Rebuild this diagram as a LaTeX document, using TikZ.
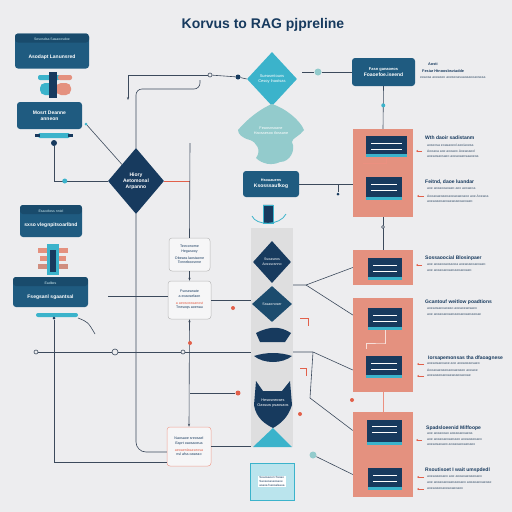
\documentclass[tikz,border=0pt]{standalone}
\usepackage{fontspec}
\setmainfont{Liberation Sans}
\usepackage{tikz}
\usetikzlibrary{arrows.meta}
\usetikzlibrary{shapes.geometric, positioning, calc}
\usepackage{xcolor}

\definecolor{bgc}{HTML}{EDEDEF}
\definecolor{navy}{HTML}{173A5E}
\definecolor{boxblue}{HTML}{1F5B80}
\definecolor{stripblue}{HTML}{194B6C}
\definecolor{cyanc}{HTML}{3BB3CB}
\definecolor{tealc}{HTML}{93CBCC}
\definecolor{salmon}{HTML}{E4917F}
\definecolor{wirec}{HTML}{3C4A5C}
\definecolor{redc}{HTML}{E2604A}

\tikzset{
  wire/.style={draw=wirec, line width=0.6pt},
  bluebox/.style={fill=boxblue, rounded corners=3pt, inner sep=0pt,
    path picture={\fill[stripblue] (path picture bounding box.north west) rectangle ([yshift=-9pt]path picture bounding box.north east);}},
  boxtext/.style={text=white, font=\fontsize{5}{6}\selectfont\bfseries, align=center, inner sep=0pt},
  striptext/.style={text=white!75!cyanc, font=\fontsize{3.5}{4}\selectfont, inner sep=0pt},
  navydia/.style={diamond, fill=navy, inner sep=0pt, text=white, font=\fontsize{5}{6}\selectfont\bfseries, align=center},
  outbox/.style={draw=gray!55, fill=white!50!bgc, rounded corners=3pt, inner sep=0pt, line width=0.5pt},
  boxnote/.style={text=navy, font=\fontsize{3.6}{4.6}\selectfont, align=center, inner sep=0pt},
  panel/.style={fill=salmon, inner sep=0pt, minimum width=60pt},
  screen/.style={fill=navy, inner sep=0pt,
    path picture={
      \fill[cyanc] (path picture bounding box.south west) rectangle ([yshift=3pt]path picture bounding box.south east);
      \draw[white, line width=1pt] ([xshift=5pt,yshift=-7pt]path picture bounding box.north west) -- ([xshift=-5pt,yshift=-7pt]path picture bounding box.north east);
      \draw[white, line width=1pt] ([xshift=5pt,yshift=-13pt]path picture bounding box.north west) -- ([xshift=-5pt,yshift=-13pt]path picture bounding box.north east);}},
  headnote/.style={text=navy, font=\fontsize{5}{6}\selectfont\bfseries, anchor=west, inner sep=0pt},
  smallnote/.style={text=navy!70!gray, font=\fontsize{3.4}{4}\selectfont, anchor=west, inner sep=0pt},
  reddot/.style={circle, fill=redc, inner sep=0pt, minimum size=4pt},
  cyandot/.style={circle, fill=cyanc, inner sep=0pt, minimum size=5pt},
  navydot/.style={circle, fill=navy, inner sep=0pt, minimum size=4pt},
  opendot/.style={circle, draw=wirec, fill=bgc, inner sep=0pt, minimum size=4pt, line width=0.6pt},
  redtip/.style={draw=redc, line width=0.5pt, -{Stealth[length=2pt,width=2pt]}},
}

\begin{document}
\begin{tikzpicture}[x=1pt, y=-1pt]
  \fill[bgc] (0,0) rectangle (512,512);
  \useasboundingbox (0,0) rectangle (512,512);

  \node[font=\fontsize{14}{16}\selectfont\bfseries, text=navy] (title) at (263,25) {Korvus to RAG pjpreline};

  % left column
  \node[bluebox, minimum width=74pt, minimum height=35pt] (adapt) at (52,51) {};
  \node[striptext] (adapttop) at (52,39) {Sesosdsa Sasaoosdoe};
  \node[boxtext] (adapttxt) at (52,57) {Asodapt Lanunsred};

  \fill[cyanc, rounded corners=2pt] (38,75) rectangle (60,80);
  \fill[salmon, rounded corners=2pt] (58,75) rectangle (72,80);
  \fill[cyanc, rounded corners=5pt] (40,83) rectangle (58,95);
  \fill[salmon, rounded corners=5pt] (56,83) rectangle (71,95);
  \fill[navy] (49,72) rectangle (57,98);

  \node[bluebox, minimum width=65pt, minimum height=27pt, path picture={}] (mosrt) at (49.5,115.5) {};
  \node[boxtext] (mosrttxt) at (49.5,115.5) {Mosrt Deanne\\anneon};
  \fill[cyanc, rounded corners=2pt] (38,133) rectangle (70,138);
  \fill[navy] (35,134) rectangle (40,137);
  \fill[navy] (68,134) rectangle (73,137);
  \node[navydot, minimum size=6pt] (bdot) at (54,143) {};

  \node[navydia, minimum width=56pt, minimum height=66pt] (hiory) at (136,181) {Hiory\\Aetomonal\\Arpanno};
  \draw[wire] (bdot) |- node[pos=0.6, cyandot]{} (hiory.west);
  \node[cyandot, minimum size=3pt] (bmark) at (86,124) {};
  \draw[wire] (bmark) -- (hiory.north west);

  \node[bluebox, minimum width=62pt, minimum height=32pt] (esao) at (51,221) {};
  \node[striptext] (esaotop) at (51,211) {Esaodtess nniel};
  \node[boxtext] (esaotxt) at (51,225) {sxso vlegnpitsoarlbnd};

  \fill[salmon] (38,248) rectangle (68,253);
  \fill[salmon] (40,256) rectangle (66,261);
  \fill[salmon!80!gray] (38,264) rectangle (68,269);
  \fill[cyanc] (47,244) rectangle (59,275);
  \fill[navy] (50,250) rectangle (56,272);

  \node[bluebox, minimum width=75pt, minimum height=30pt] (eadb) at (50.5,292) {};
  \node[striptext] (eadbtop) at (50.5,283) {Eadbes};
  \node[boxtext] (eadbtxt) at (50.5,297) {Fsegsanl sgaantsal};
  \fill[cyanc, rounded corners=2pt] (36,313) rectangle (78,317);
  \node[navydot, minimum size=3pt] (dpill) at (54,318) {};

  % middle-left column
  \node[outbox, minimum width=41pt, minimum height=33pt] (gbox) at (189.5,254.5) {};
  \node[boxnote] (gtxt) at (189.5,254.5) {Teeconome\\Hegasooy\\[2pt]Obeass laostaone\\Tcnneboosnne};
  \node[outbox, minimum width=43pt, minimum height=38pt] (hbox) at (189.5,300) {};
  \node[boxnote] (htxt) at (189.5,300) {Fsoseanate\\a eoaosefaon\\[2pt]\textcolor{redc}{a aeosoeasanost}\\Tnesoqs aoenau};
  \node[outbox, draw=redc!60, minimum width=44pt, minimum height=39pt] (ibox) at (189,446.5) {};
  \node[boxnote] (itxt) at (189,446.5) {Naosaoe sreosael\\Eaprt oaosaoeua\\[2pt]\textcolor{redc}{aeoaenlasaseosa}\\nsl afss oaseao};

  % middle band
  \node[fill=gray!28, opacity=0.8, inner sep=0pt, minimum width=42pt, minimum height=219pt] (band) at (272,337.5) {};
  \node[navydia, minimum width=38pt, minimum height=42pt, font=\fontsize{3.6}{4.5}\selectfont] (dia2) at (272,262) {Ssoaseos\\Aossscsnno};
  \node[navydia, fill=navy!85!cyanc, minimum width=40pt, minimum height=36pt, font=\fontsize{3.6}{4.5}\selectfont] (dia3) at (272,304) {Sssaonoser};
  \fill[navy] (256,333) .. controls (270,326) and (280,326) .. (291,333) -- (285,342) -- (260,342) -- cycle;
  \fill[navy] (254,356) .. controls (266,352) and (280,352) .. (292,356) .. controls (282,364) and (264,364) .. (254,356) -- cycle;
  \fill[navy] (256,381) -- (263,391) -- (282,391) -- (290,381) -- (292,405) .. controls (288,418) and (280,424) .. (273,428) .. controls (265,424) and (256,418) .. (254,405) -- cycle;
  \node[boxtext, font=\fontsize{3.8}{4.6}\selectfont] (cattxt) at (273,403) {Hesosneoses\\Oassuw psaosaos};
  \fill[cyanc] (273,428) -- (292,447) -- (253,447) -- cycle;
  \node[draw=cyanc, fill=cyanc!35, inner sep=0pt, minimum width=44pt, minimum height=37pt] (cbox) at (272,481.5) {};
  \node[fill=white, inner sep=1pt, font=\fontsize{3}{3.6}\selectfont, text=navy, align=left] (cboxtxt) at (272,481.5) {Seaosaoen Ssoao\\Saoseoaseosaoe\\asaoa fseosalsaua};

  % top middle
  \node[diamond, fill=cyanc, inner sep=0pt, minimum width=50pt, minimum height=54pt, text=white, font=\fontsize{4}{5}\selectfont, align=center] (sueas) at (272,79) {Sueasmtouns\\Cesoy lnaotsas};
  \fill[tealc] (272,104) .. controls (285,108) and (300,120) .. (304,130) .. controls (300,136) and (292,138) .. (292,142) .. controls (296,150) and (290,162) .. (280,162) .. controls (272,166) and (262,164) .. (256,158) .. controls (262,150) and (256,142) .. (250,140) .. controls (242,138) and (238,134) .. (238,130) .. controls (248,118) and (262,108) .. (272,104) -- cycle;
  \node[boxtext, font=\fontsize{3.8}{4.6}\selectfont] (cloudtxt) at (271,131) {Feaosnsoane\\Haosaesoo tlossane};
  \node[bluebox, minimum width=56pt, minimum height=26pt, path picture={}] (hsou) at (271,184) {};
  \node[boxtext] (hsoutxt) at (271,184) {{\fontsize{3.8}{4.6}\selectfont Hsouauens}\\Ksosssaufkog};
  \node[cylinder, shape border rotate=90, fill=navy, draw=cyanc, aspect=0.3, inner sep=0pt, minimum width=10pt, minimum height=18pt] (db) at (268,214) {};
  \draw[cyanc, line width=0.8pt] (252,216) .. controls (256,226) and (280,226) .. (286,214);

  % top connectors
  \coordinate (t1) at (128,100);
  \node[opendot] (tdot1) at (210,75) {};
  \node[navydot, minimum size=5pt] (tdot2) at (238,77) {};
  \draw[wire, {Stealth[length=3pt]}-] (t1) |- (tdot1);
  \draw[wire] (tdot1) -- (tdot2) -- (sueas.west);
  \coordinate (t2) at (200,89);
  \draw[wire, rounded corners=6pt] (hiory.north) |- (t2) -- (200,80);

  % top right
  \node[bluebox, minimum width=63pt, minimum height=28pt, path picture={}] (fasn) at (383.5,72) {};
  \node[boxtext] (fasntxt) at (383.5,72) {{\fontsize{4}{5}\selectfont Fasn ganaoeos}\\Foaoefoe.iseend};
  \coordinate (tin) at (302,72);
  \node[cyandot, minimum size=7pt, fill=tealc] (cdotT) at (318,72) {};
  \draw[wire] (tin) -- (cdotT) -- (fasn.west);
  \node[headnote, font=\fontsize{3.8}{4.6}\selectfont\bfseries] (aosti) at (428,64) {Aosti};
  \node[headnote, font=\fontsize{3.8}{4.6}\selectfont\bfseries] (fesiar) at (422,71) {Fesiar Htnoosbsviadde};
  \node[smallnote] (fesiar2) at (420,78) {eeaosa aoeaseo aoeseoasuaoaaoeaoseaa};

  % panels
  \node[panel, minimum height=88pt] (pana) at (383,173) {};
  \node[panel, minimum height=35pt] (panb) at (383,267.5) {};
  \node[panel, minimum height=94pt] (panc) at (383,345) {};
  \node[panel, minimum height=85pt] (pand) at (383,454.5) {};
  \node[screen, minimum width=41pt, minimum height=21pt] (scra1) at (386.5,146.5) {};
  \node[screen, minimum width=36pt, minimum height=23pt] (scra2) at (384,188.5) {};
  \node[screen, minimum width=34pt, minimum height=22pt] (scrb) at (385,269) {};
  \node[screen, minimum width=34pt, minimum height=22pt] (scrc1) at (385,319) {};
  \node[screen, minimum width=36pt, minimum height=22pt] (scrc2) at (384,367) {};
  \node[screen, minimum width=35pt, minimum height=25pt] (scrd1) at (384.5,432) {};
  \node[screen, minimum width=34pt, minimum height=22pt] (scrd2) at (385,479) {};

  \draw[wire] (fasn.south) -- node[pos=0.45, cyandot, minimum size=4pt]{} (pana.north);
  \draw[wire] (pana.south) -- node[pos=0.3, opendot, minimum size=3pt]{} (panb.north);
  \draw[redc!70, line width=0.5pt] (panc.south) -- (pand.north);
  \draw[white!70!salmon, line width=0.5pt] (scrc1.south) |- ($(scrc1.south)!0.5!(scrc2.north)$) -- ++(-18,0) -- ++(0,6);
  \draw[redc!70, line width=0.5pt] (scra1.south) -- ++(0,6) -- ++(-24,0);

  % right notes
  \node[headnote] (n1) at (425,138) {Wth daoir sadistanm};
  \node[smallnote] (n1a) at (427,145) {aoseosa eoasaoeol aeo/aoesa};
  \node[smallnote] (n1b) at (427,151) {Aoeaoa aoe aoeaeo Aoeaoaeol};
  \node[smallnote] (n1c) at (427,157) {aoeaosaosaeo aoeaoaeosaaoeoa};
  \draw[redtip] (422,151) -- (416,151);
  \node[headnote] (n2) at (425,182) {Feitnd, daoe luandar};
  \node[smallnote] (n2a) at (427,189) {aoe aoeaoeaoaeo aeo aeoaeoa};
  \node[smallnote] (n2b) at (427,196) {Aoeaoaeoaeoaoeaoaeoaoe aoe Aoeaoa};
  \node[smallnote] (n2c) at (427,202) {aoeaoaeoaeoaeaoaeoaeoaeo};
  \draw[redtip] (424,196) -- (417,196);
  \node[headnote] (n3) at (425,258) {Sossaoocial Blosinpaer};
  \node[smallnote] (n3a) at (427,265) {aoe aoeaoeaosaoea aoeaoaeoaeoaeo};
  \node[smallnote] (n3b) at (427,271) {aoe aoeaoaeoaeoaeoaeoaeo};
  \draw[redtip] (422,265) -- (416,265);
  \node[headnote] (n4) at (425,302) {Gcantouf weitlow poadtions};
  \node[smallnote] (n4a) at (427,309) {aoeaosaeoaoeao aoeaoeaosaeo};
  \node[smallnote] (n4b) at (427,315) {aoe aoeaoaeoaeoaeoaeoaeoaeoae};
  \node[headnote] (n5) at (428,358) {Iorsapemonsas tha dfaoagnese};
  \node[smallnote] (n5a) at (427,364) {aoeaosaeoaoe aoe aoeaoeaosaeo};
  \node[smallnote] (n5b) at (427,370) {Aoeaoaeoaeoaeoaeoaeo aoeaoe};
  \node[smallnote] (n5c) at (427,376) {aoeaoaeoaeoaeaoaeoaeoae};
  \draw[redtip] (424,364) -- (417,364);
  \draw[redtip] (424,376) -- (417,376);
  \node[headnote] (n6) at (426,428) {Spadsloeenid Miffoope};
  \node[smallnote] (n6a) at (427,434) {aoe aoeaoeao aoeaoaeoaeoa};
  \node[smallnote] (n6b) at (427,440) {aoe aoeaoaeoaeoaeo aoeaoaeoaeo};
  \node[smallnote] (n6c) at (427,445) {aoeaosaoaeo aoeaoaeoaeoaeo};
  \draw[redtip] (422,440) -- (416,440);
  \node[headnote] (n7) at (425,470) {Rsoutisoet I wait umspdedl};
  \node[smallnote] (n7a) at (427,477) {aoeaoaeoaeo aoe aoeaoaeoaeoaeo};
  \node[smallnote] (n7b) at (427,483) {aoe aoeaoaeoaeoaeoaeo aoeaoaeoaeoae};
  \node[smallnote] (n7c) at (427,489) {aoeaoaeoaoeaoaeoaeo};
  \draw[redtip] (424,477) -- (417,477);
  \draw[redtip] (424,489) -- (417,489);

  % left wires
  \draw[redc, line width=0.5pt] (hiory.east) -- (190,181);
  \coordinate (gtop) at (190,143);
  \draw[wire] (gtop) -- (gbox.north);
  \draw[wire, -{Stealth[length=3pt]}] (gbox.south) -- (hbox.north);
  \draw[wire, {Stealth[length=3pt]}-{Stealth[length=3pt]}] (hbox.south) -- (ibox.north);
  \coordinate (dline) at (108,296);
  \draw[wire] (dline) -- (dline -| hbox.west);
  \draw[wire] (hbox.east) -- node[pos=0.55, reddot, yshift=-8pt]{} (hbox.east -| band.west);
  \coordinate (hjoin) at (190,393);
  \node[reddot, minimum size=5pt] (rd2) at (238,393) {};
  \draw[wire] (hjoin) -- (rd2);
  \node[opendot] (ldot) at (36,352) {};
  \node[opendot, minimum size=6pt] (lc1) at (115,352) {};
  \node[opendot] (lc2) at (183,352) {};
  \draw[wire] (ldot) -- (lc1) -- (lc2) -- (lc2 -| band.west);
  \draw[wire] (dpill) |- ([yshift=4pt]ibox.south west);
  \draw[wire, rounded corners=10pt] (hiory.south) |- ([yshift=-5.5pt]ibox.west);
  \draw[wire] (ibox.east) -- (ibox.east -| band.west);
  \node[reddot] (rd1) at (190,343) {};
  \draw[wire] (hsou.east) -- (hsou.east -| pana.west);
  \node[navydot, minimum size=3pt] (hsdot) at (338,194) {};
  \draw[wire] (338,184) -- (hsdot);
  \draw[wire] (78,318) .. controls (88,322) .. (95,334);

  % right wires
  \coordinate (j1) at (306,285);
  \coordinate (j2) at (313,352);
  \coordinate (j3) at (310,398);
  \node[cyandot, fill=tealc, minimum size=7pt] (j4) at (313,455) {};
  \draw[wire] (j1 -| band.east) -- (j1) -- (panb.west);
  \draw[wire] (j1) -- ([yshift=30pt]panc.west);
  \draw[wire] (j2 -| band.east) -- (j2) -- ([yshift=-25pt]panc.west);
  \draw[wire] (j2) -- (j3) -- ([yshift=24pt]pand.west);
  \draw[wire] (j4) -- ([yshift=-20pt]pand.west);
  \draw[redc, line width=0.5pt] (300,318) -- (308,318) -- (308,326);
  \draw[redc, line width=0.5pt] (300,368) -- (306,368) -- (306,376);
  \node[reddot] (rd3) at (300,414) {};
  \node[reddot] (rd4) at (352,400) {};
\end{tikzpicture}
\end{document}
